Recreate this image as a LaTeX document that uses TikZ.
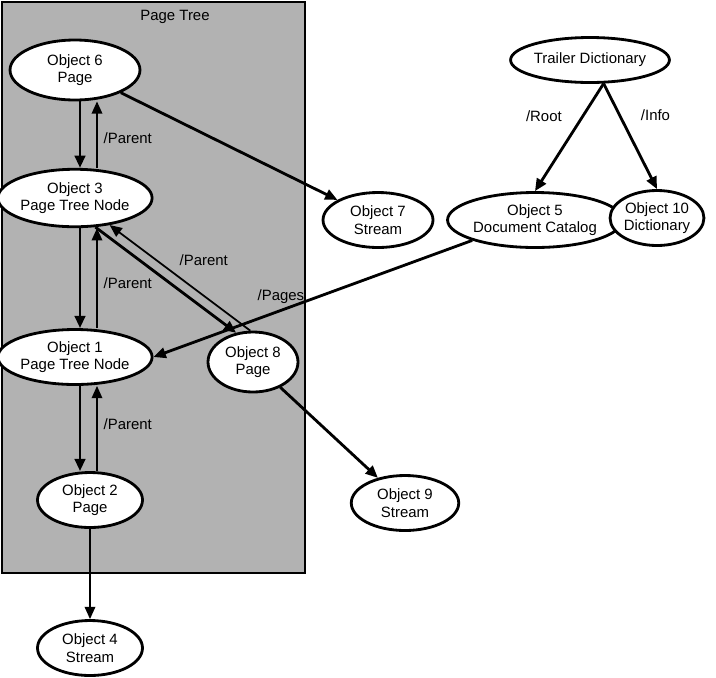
\documentclass[tikz,border=0pt]{standalone}
\usepackage{fontspec}
\setmainfont{Liberation Sans}
\usetikzlibrary{arrows.meta,shapes.geometric,positioning,backgrounds}

\begin{document}
\begin{tikzpicture}[x=0.02cm, y=-0.02cm,
        obj/.style={ellipse, draw=black, fill=white, line width=1.6pt, inner sep=0pt, align=center, font=\fontsize{8.5}{10}\selectfont, minimum height=1.1cm},  % PDF object
        lbl/.style={font=\fontsize{8.5}{10}\selectfont},
        ref/.style={-{Triangle[length=7pt,width=6pt]}, line width=1.6pt},
        back/.style={-{Triangle[length=7pt,width=6pt]}, line width=1pt},
    ]
        \useasboundingbox (0,0) rectangle (716,677);
        %Page tree box
        \node[draw=black, fill=black!30, line width=1pt, minimum width=6.06cm, minimum height=11.42cm, inner sep=0pt] (Tree) at (153.5,287.5) {};
        \node[lbl] (TreeLabel) at (175,17) {Page Tree};

        %Nodes
        \node[obj, minimum width=2.6cm, minimum height=1.2cm] (Obj6) at (75,70) {Object 6\\Page};
        \node[obj, minimum width=2.7cm, minimum height=1.15cm] (Obj3) at (75,198) {Object 3\\Page Tree Node};
        \node[obj, minimum width=2.7cm] (Obj1) at (75,357) {Object 1\\Page Tree Node};
        \node[obj, minimum width=2.1cm] (Obj2) at (90,500) {Object 2\\Page};
        \node[obj, minimum width=2.1cm] (Obj4) at (90,648) {Object 4\\Stream};
        \node[obj, minimum width=2.2cm] (Obj7) at (378,220) {Object 7\\Stream};
        \node[obj, minimum width=1.8cm, minimum height=1.2cm] (Obj8) at (253,362) {Object 8\\Page};
        \node[obj, minimum width=2.15cm] (Obj9) at (405,503) {Object 9\\Stream};
        \node[obj, minimum width=2.75cm, minimum height=0.9cm] (Trailer) at (590,60) {Trailer Dictionary};
        \node[obj, minimum width=2.8cm] (Obj5) at (535,220) {Object 5\\Document Catalog};
        \node[obj, minimum width=1.75cm] (Obj10) at (657,218) {Object 10\\Dictionary};

        %Lines
        \draw[ref] (Obj6.south -| 80,0) -- (Obj3.north -| 80,0);
        \draw[back] (Obj3.north -| 97,0) -- node[lbl, right, pos=0.45] {/Parent} (Obj6.south -| 97,0);
        \draw[ref] (Obj3.south -| 80,0) -- (Obj1.north -| 80,0);
        \draw[back] (Obj1.north -| 97,0) -- node[lbl, right, pos=0.45] {/Parent} (Obj3.south -| 97,0);
        \draw[ref] (Obj1.south -| 80,0) -- (Obj2.north -| 80,0);
        \draw[back] (Obj2.north -| 97,0) -- node[lbl, right, pos=0.55] {/Parent} (Obj1.south -| 97,0);
        \draw[back] (Obj2) -- (Obj4);
        \draw[ref] (Obj6) -- (Obj7);
        \draw[ref] (Obj3.-55) -- (Obj8.120);
        \draw[back] (Obj8.95) -- node[lbl, above right, pos=0.55] {/Parent} (Obj3.-38);
        \draw[ref] (Obj5.south west) -- node[lbl, above, pos=0.6] {/Pages} (Obj1.east);
        \draw[ref] (Obj8) -- (Obj9);
        \draw[ref] (Trailer.-60) -- node[lbl, left, pos=0.3, xshift=-8pt] {/Root} (Obj5.north);
        \draw[ref] (Trailer.-60) -- node[lbl, right, pos=0.3, xshift=8pt] {/Info} (Obj10.north);
    \end{tikzpicture}
\end{document}
